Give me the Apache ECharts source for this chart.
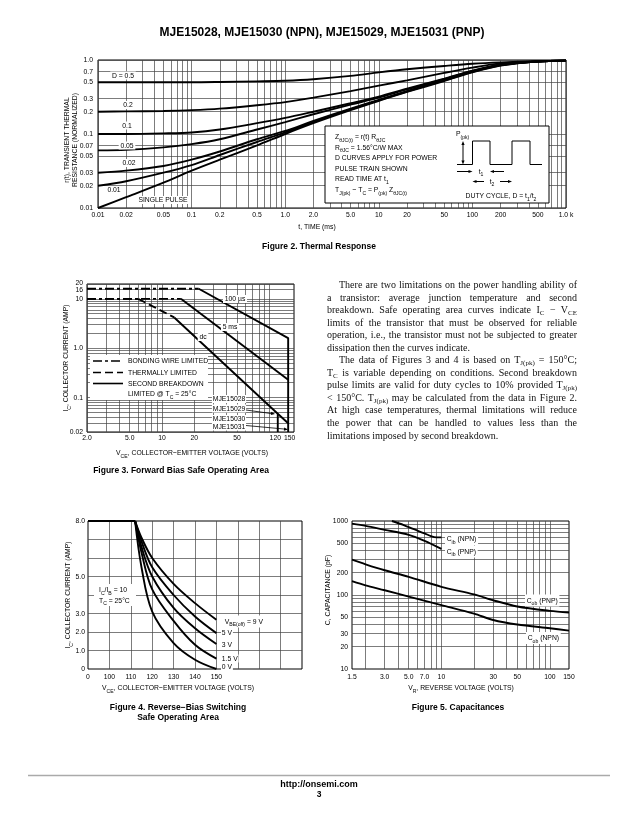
<!DOCTYPE html>
<html><head><meta charset="utf-8"><title>MJE15028 thermal and SOA curves</title>
<script src="https://cdn.jsdelivr.net/npm/echarts@6/dist/echarts.min.js"></script>
<style>
html,body{margin:0;padding:0;background:#fff;width:638px;height:826px;overflow:hidden;}
#chart{position:absolute;left:0;top:0;width:638px;height:826px;}
#para{position:absolute;left:327px;top:279px;width:250px;font-family:'Liberation Serif','Times New Roman',Times,serif;font-size:10px;color:#111;}
#para .l{height:12.56px;line-height:12.56px;text-align:justify;text-align-last:justify;}
#para .e{text-align-last:left;}
#para .i{text-indent:12px;}
#para sub{font-size:7px;vertical-align:-2px;line-height:0;}
</style></head><body>
<div id="chart"></div>
<div id="para">
<div class="l i">There are two limitations on the power handling ability of</div>
<div class="l">a transistor: average junction temperature and second</div>
<div class="l">breakdown. Safe operating area curves indicate I<sub>C</sub> − V<sub>CE</sub></div>
<div class="l">limits of the transistor that must be observed for reliable</div>
<div class="l">operation, i.e., the transistor must not be subjected to greater</div>
<div class="l e">dissipation then the curves indicate.</div>
<div class="l i">The data of Figures 3 and 4 is based on T<sub>J(pk)</sub> = 150°C;</div>
<div class="l">T<sub>C</sub> is variable depending on conditions. Second breakdown</div>
<div class="l">pulse limits are valid for duty cycles to 10% provided T<sub>J(pk)</sub></div>
<div class="l">&lt; 150°C. T<sub>J(pk)</sub> may be calculated from the data in Figure 2.</div>
<div class="l">At high case temperatures, thermal limitations will reduce</div>
<div class="l">the power that can be handled to values less than the</div>
<div class="l e">limitations imposed by second breakdown.</div>
</div>
<script>
const FN = "'Liberation Sans',Arial,Helvetica,sans-serif";
const FB = "'Liberation Sans',Arial,Helvetica,sans-serif";
const SX = 0.85; // condensed look of the original lettering

// ---------- Figure 2: thermal response ----------
const f2Time   = [0.01,0.02,0.05,0.1,0.2,0.5,1,2,5,10,20,50,100,200,500,1000];
const f2D050   = [0.5,0.5,0.5,0.5,0.505,0.515,0.525,0.55,0.61,0.68,0.75,0.83,0.89,0.93,0.965,0.975];
const f2D020   = [0.2,0.202,0.205,0.21,0.22,0.245,0.27,0.31,0.38,0.45,0.53,0.67,0.79,0.9,0.96,0.975];
const f2D010   = [0.1,0.1,0.102,0.105,0.115,0.14,0.165,0.2,0.26,0.32,0.41,0.56,0.72,0.87,0.955,0.975];
const f2D005   = [0.06,0.061,0.066,0.073,0.085,0.115,0.145,0.185,0.25,0.31,0.4,0.55,0.71,0.86,0.955,0.975];
const f2D002   = [0.03,0.032,0.037,0.045,0.058,0.085,0.11,0.15,0.22,0.29,0.38,0.54,0.7,0.86,0.955,0.975];
const f2D001   = [0.02,0.023,0.03,0.038,0.052,0.078,0.105,0.145,0.215,0.285,0.375,0.53,0.69,0.85,0.955,0.975];
const f2Single = [0.01,0.014,0.022,0.032,0.045,0.07,0.1,0.14,0.21,0.28,0.37,0.52,0.68,0.84,0.955,0.975];
const f2XTicks    = [0.01,0.02,0.05,0.1,0.2,0.5,1,2,5,10,20,50,100,200,500,1000];
const f2XTickText = ['0.01','0.02','0.05','0.1','0.2','0.5','1.0','2.0','5.0','10','20','50','100','200','500','1.0 k'];
const f2YTicks    = [0.01,0.02,0.03,0.05,0.07,0.1,0.2,0.3,0.5,0.7,1];
const f2YTickText = ['0.01','0.02','0.03','0.05','0.07','0.1','0.2','0.3','0.5','0.7','1.0'];

// ---------- Figure 3: forward bias SOA ----------
const f3Bond100us = [[2,16],[22,16]];
const f3Sb100us   = [[22,16],[150,1.6],[150,0.02]];
const f3Bond5ms   = [[2,10],[15,10]];
const f3Sb5ms     = [[15,10],[150,0.23]];
const f3BondDc    = [[2,10],[6,10]];
const f3ThermDc   = [[6,10],[13,4.2]];
const f3SbDc      = [[13,4.2],[120,0.047],[150,0.03]];
const f3Limit120  = [[120,0.047],[120,0.02]];
const f3XTicks    = [2,5,10,20,50,120,150];
const f3XTickText = ['2.0','5.0','10','20','50','120','150'];
const f3YTicks    = [0.02,0.1,1,10,16,20];
const f3YTickText = ['0.02','0.1','1.0','10','16','20'];

// ---------- Figure 4: reverse bias SOA ----------
const f4Flat   = [[0,8],[112,8]];
const f4Vce    = [112,115,120,130,140,150];
const f4V9     = [8,7.1,6.0,4.6,3.56,2.66];
const f4V5     = [8,6.9,5.5,4.0,2.84,1.94];
const f4V3     = [8,6.6,5.0,3.3,2.2,1.35];
const f4V15    = [8,6.3,4.3,2.6,1.31,0.56];
const f4V0     = [8,5.5,3.1,1.4,0.5,0];
const f4XTicks    = [0,100,110,120,130,140,150];
const f4XTickText = ['0','100','110','120','130','140','150'];
const f4YTicks    = [0,1,2,3,5,8];
const f4YTickText = ['0','1.0','2.0','3.0','5.0','8.0'];

// ---------- Figure 5: capacitances ----------
const f5CibNpn = [[3.5,1000],[4.5,880],[5.5,780],[7,680],[8,625],[9,600],[10,600]];
const f5CibPnp = [[1.5,920],[2,860],[3,760],[5,650],[7,540],[10,420]];
const f5CobPnp = [[1.5,300],[2,260],[3,216],[5,176],[10,129],[20,102],[30,85],[50,70],[100,61],[150,58]];
const f5CobNpn = [[1.5,154],[2,135],[3,116],[5,95],[10,73],[20,56],[30,46],[50,40],[100,35.5],[150,33]];
const f5XTicks    = [1.5,3,5,7,10,30,50,100,150];
const f5XTickText = ['1.5','3.0','5.0','7.0','10','30','50','100','150'];
const f5YTicks    = [10,20,30,50,100,200,500,1000];
const f5YTickText = ['10','20','30','50','100','200','500','1000'];

// ---------- helpers ----------
function logGrid(min, max){ const out=[]; for(let e=-3;e<=4;e++){ for(let m=1;m<=9;m++){ const v=+(m*Math.pow(10,e)).toPrecision(6); if(v>=min*0.9999 && v<=max*1.0001) out.push(v);} } return out; }
function brk(v){ return v < 100 ? 90 + v/10 : v; } // broken VCE axis: 0..100 compressed into one cell

const grids = [
  {left:98, top:60, width:468, height:148},
  {left:87, top:284, width:207, height:148},
  {left:88, top:521, width:214, height:148},
  {left:352, top:521, width:217, height:148}
].map(g=>Object.assign({show:true, borderColor:'#000', borderWidth:1, backgroundColor:'transparent', containLabel:false, outerBoundsMode:'none'}, g));

function ax(type, gi, min, max){ return {type, gridIndex:gi, min, max, axisLine:{show:false}, axisTick:{show:false}, axisLabel:{show:false}, splitLine:{show:false}, minorTick:{show:false}, minorSplitLine:{show:false}}; }

const series = [];
function gridLines(gi, xs, ys, anchor){
  series.push({type:'line', xAxisIndex:gi, yAxisIndex:gi, data:[anchor], symbol:'none', lineStyle:{opacity:0}, silent:true, animation:false, z:1,
    markLine:{silent:true, symbol:['none','none'], animation:false, label:{show:false}, emphasis:{disabled:true},
      lineStyle:{color:'#444', width:0.7, type:'solid'},
      data: xs.map(v=>({xAxis:v})).concat(ys.map(v=>({yAxis:v})))}});
}
function curve(gi, data, opt){
  series.push(Object.assign({type:'line', xAxisIndex:gi, yAxisIndex:gi, data, symbol:'none', silent:true, animation:false, z:5,
    lineStyle:{color:'#000', width:1.9, type:'solid'}}, opt||{}));
}

// Figure 2
gridLines(0, logGrid(0.01,1000), f2YTicks, [0.01,0.01]);
[f2D050,f2D020,f2D010,f2D005,f2D002,f2D001,f2Single].forEach(arr=>curve(0, f2Time.map((t,i)=>[t,arr[i]]), {smooth:0.3}));

// Figure 3
gridLines(1, logGrid(2,100), logGrid(0.02,20).concat([16]), [2,0.02]);
const bondDash = [9,3,3,3], thermDash = [8,4];
curve(1, f3Bond100us, {lineStyle:{color:'#000', width:1.9, type:bondDash}});
curve(1, f3Sb100us);
curve(1, f3Bond5ms, {lineStyle:{color:'#000', width:1.9, type:bondDash}});
curve(1, f3Sb5ms);
curve(1, f3BondDc, {lineStyle:{color:'#000', width:1.9, type:bondDash}});
curve(1, f3ThermDc, {lineStyle:{color:'#000', width:1.9, type:thermDash}});
curve(1, f3SbDc);
curve(1, f3Limit120);

// Figure 4
const f4GX = []; for(let v=100; v<190; v+=10) f4GX.push(v);
gridLines(2, f4GX, [1,2,3,4,5,6,7], [90,0]);
curve(2, f4Flat.map(p=>[brk(p[0]),p[1]]));
[f4V9,f4V5,f4V3,f4V15,f4V0].forEach(arr=>curve(2, f4Vce.map((v,i)=>[brk(v),arr[i]]), {smooth:0.35}));

// Figure 5
gridLines(3, logGrid(2,100), logGrid(20,900), [1.5,10]);
[f5CibNpn,f5CibPnp,f5CobPnp,f5CobNpn].forEach(d=>curve(3, d, {smooth:0.3}));

const chart = echarts.init(document.getElementById('chart'), null, {renderer:'canvas'});
chart.setOption({
  animation:false,
  backgroundColor:'#fff',
  grid: grids,
  xAxis: [ax('log',0,0.01,1000), ax('log',1,2,170), ax('value',2,90,190), ax('log',3,1.5,150)],
  yAxis: [ax('log',0,0.01,1), ax('log',1,0.02,20), ax('value',2,0,8), ax('log',3,10,1000)],
  series
});

// ---------- graphic annotations ----------
const RICH = {s:{fontFamily:FN, fontSize:6, verticalAlign:'bottom', lineHeight:12}};
function T(x,y,text,o){ o=o||{}; return {type:'text', x, y, z:o.z||60, rotation:o.rot||0, scaleX:(o.sx===undefined?SX:o.sx), silent:true,
  style:{text, fontFamily:o.ff||FN, fontSize:o.fs||8, fontWeight:o.fw||'normal', fill:'#000', align:o.align||'left', verticalAlign:'middle',
    backgroundColor:o.bg||'transparent', padding:o.pad||0, lineHeight:o.lh, rich:RICH}}; }
function P(points, o){ o=o||{}; return {type:'polyline', z:o.z||60, silent:true, shape:{points}, style:{stroke:'#000', lineWidth:o.w||1, fill:null, lineDash:o.dash||null}}; }
function H(x,y,ang){ const l=4, w=1.6, c=Math.cos(ang), s=Math.sin(ang);
  return {type:'polygon', z:61, silent:true, shape:{points:[[x,y],[x-l*c-w*s, y-l*s+w*c],[x-l*c+w*s, y-l*s-w*c]]}, style:{fill:'#000'}}; }
const WB = '#fff';
const g = [];

// tick labels placed through the axes' own scales (small nudges where labels crowd; key = set index : label)
const nudge = {'2:120':[-2.5,0], '2:150':[1.5,0], '3:20':[0,-1.5], '3:16':[0,1]};
const tickSets = [
  [0, f2XTicks.map(v=>[v,0.01]), f2XTickText, 0, 7, 'center'],
  [0, f2YTicks.map(v=>[0.01,v]), f2YTickText, -5, 0, 'right'],
  [1, f3XTicks.map(v=>[v,0.02]), f3XTickText, 0, 6, 'center'],
  [1, f3YTicks.map(v=>[2,v]), f3YTickText, -4, 0, 'right'],
  [2, f4XTicks.map(v=>[brk(v),0]), f4XTickText, 0, 7.5, 'center'],
  [2, f4YTicks.map(v=>[90,v]), f4YTickText, -3, 0, 'right'],
  [3, f5XTicks.map(v=>[v,10]), f5XTickText, 0, 7.5, 'center'],
  [3, f5YTicks.map(v=>[1.5,v]), f5YTickText, -4, 0, 'right']
];
tickSets.forEach(([gi, pts, texts, dx, dy, align], si)=>{
  pts.forEach((p,i)=>{ const px = chart.convertToPixel({gridIndex:gi}, p); const n = nudge[si+':'+texts[i]] || [0,0];
    g.push(T(px[0]+dx+n[0], px[1]+dy+n[1], texts[i], {align})); });
});

// page title and footer
g.push(T(322,33,'MJE15028, MJE15030 (NPN), MJE15029, MJE15031 (PNP)',{ff:FB,fs:12,fw:'bold',align:'center',sx:1}));
g.push({type:'line', z:10, silent:true, shape:{x1:28,y1:775.5,x2:610,y2:775.5}, style:{stroke:'#aaa', lineWidth:1.5}});
g.push(T(319,784.5,'http://onsemi.com',{ff:FB,fs:9,fw:'bold',align:'center',sx:1}));
g.push(T(319,795,'3',{ff:FB,fs:8.5,fw:'bold',align:'center',sx:1}));

// Figure 2 annotations
g.push(T(71,140,'r(t), TRANSIENT THERMAL\nRESISTANCE (NORMALIZED)',{rot:Math.PI/2, align:'center', lh:8.5}));
g.push(T(317,227,'t, TIME (ms)',{align:'center'}));
g.push(T(319,247,'Figure 2. Thermal Response',{ff:FB,fs:8.5,fw:'bold',align:'center',sx:1}));
g.push(T(123,75.5,'D = 0.5',{align:'center',bg:WB,pad:[0,2]}));
g.push(T(128,105,'0.2',{align:'center',bg:WB,pad:[0,2]}));
g.push(T(127,125.5,'0.1',{align:'center',bg:WB,pad:[0,2]}));
g.push(T(127,145.5,'0.05',{align:'center',bg:WB,pad:[0,2]}));
g.push(T(129,163,'0.02',{align:'center',bg:WB,pad:[0,2]}));
g.push(T(114,190,'0.01',{align:'center',bg:WB,pad:[0,2]}));
g.push(T(163,200,'SINGLE PULSE',{align:'center',bg:WB,pad:[0,2]}));
g.push({type:'rect', z:40, silent:true, shape:{x:325,y:126,width:224,height:77}, style:{fill:'#fff', stroke:'#000', lineWidth:1}});
g.push(T(335,137,'Z{s|θJC(t)} = r(t) R{s|θJC}'));
g.push(T(335,147.5,'R{s|θJC} = 1.56°C/W MAX'));
g.push(T(335,158,'D CURVES APPLY FOR POWER'));
g.push(T(335,168.5,'PULSE TRAIN SHOWN'));
g.push(T(335,179,'READ TIME AT t{s|1}'));
g.push(T(335,190,'T{s|J(pk)} − T{s|C} = P{s|(pk)} Z{s|θJC(t)}'));
g.push(P([[457,164.5],[472.5,164.5],[472.5,141],[490,141],[490,164.5],[512,164.5],[512,141],[530,141],[530,164.5],[542,164.5]]));
g.push(P([[463,144],[463,161.5]])); g.push(H(463,141,-Math.PI/2)); g.push(H(463,164.5,Math.PI/2));
g.push(T(456,134,'P{s|(pk)}'));
g.push(P([[457,171.5],[469.5,171.5]])); g.push(H(472.5,171.5,0));
g.push(P([[504,171.5],[493,171.5]])); g.push(H(490,171.5,Math.PI));
g.push(T(481,171.5,'t{s|1}',{align:'center'}));
g.push(P([[484,181.5],[475.5,181.5]])); g.push(H(472.5,181.5,Math.PI));
g.push(P([[500,181.5],[509,181.5]])); g.push(H(512,181.5,0));
g.push(T(492,181.5,'t{s|2}',{align:'center'}));
g.push(T(501,196,'DUTY CYCLE, D = t{s|1}/t{s|2}',{align:'center'}));

// Figure 3 annotations
g.push(T(66,358,'I{s|C}, COLLECTOR CURRENT (AMP)',{rot:Math.PI/2, align:'center'}));
g.push(T(192,453,'V{s|CE}, COLLECTOR−EMITTER VOLTAGE (VOLTS)',{align:'center'}));
g.push(T(181,471,'Figure 3. Forward Bias Safe Operating Area',{ff:FB,fs:8.5,fw:'bold',align:'center',sx:1}));
g.push(T(235,299,'100 µs',{align:'center',bg:WB,pad:[0,2]}));
g.push(T(230,327,'5 ms',{align:'center',bg:WB,pad:[0,2]}));
g.push(T(203,337,'dc',{align:'center',bg:WB,pad:[0,2]}));
g.push({type:'rect', z:30, silent:true, shape:{x:90,y:355,width:118,height:45}, style:{fill:'#fff'}});
g.push(P([[93,361],[123,361]],{w:1.6,dash:bondDash}));
g.push(P([[93,372.5],[123,372.5]],{w:1.6,dash:thermDash}));
g.push(P([[93,383.5],[123,383.5]],{w:1.6}));
g.push(T(128,361,'BONDING WIRE LIMITED'));
g.push(T(128,372.5,'THERMALLY LIMITED'));
g.push(T(128,383.5,'SECOND BREAKDOWN'));
g.push(T(128,394,'LIMITED @ T{s|C} = 25°C'));
g.push(T(229,399,'MJE15028',{align:'center',bg:WB,pad:[0,1]}));
g.push(T(229,408.5,'MJE15029',{align:'center',bg:WB,pad:[0,1]}));
g.push(T(229,419,'MJE15030',{align:'center',bg:WB,pad:[0,1]}));
g.push(T(229,426.5,'MJE15031',{align:'center',bg:WB,pad:[0,1]}));
g.push(P([[246,410],[271,413.5]],{w:0.8})); g.push(H(275,414,Math.atan2(3.5,25)));
g.push(P([[246,425.5],[284,429]],{w:0.8})); g.push(H(288,429.4,Math.atan2(3.5,38)));

// Figure 4 annotations
g.push(T(68,595,'I{s|C}, COLLECTOR CURRENT (AMP)',{rot:Math.PI/2, align:'center'}));
g.push(T(178,688,'V{s|CE}, COLLECTOR−EMITTER VOLTAGE (VOLTS)',{align:'center'}));
g.push(T(178,708,'Figure 4. Reverse−Bias Switching',{ff:FB,fs:8.5,fw:'bold',align:'center',sx:1}));
g.push(T(178,717.5,'Safe Operating Area',{ff:FB,fs:8.5,fw:'bold',align:'center',sx:1}));
g.push({type:'rect', z:30, silent:true, shape:{x:94,y:584,width:42,height:22}, style:{fill:'#fff'}});
g.push(T(99,590,'I{s|C}/I{s|B} = 10'));
g.push(T(99,600.5,'T{s|C} = 25°C'));
g.push(T(223,621.5,'V{s|BE(off)} = 9 V',{bg:WB,pad:[0,2]}));
g.push(T(221,633,'5 V',{bg:WB,pad:[0,1]}));
g.push(T(221,645,'3 V',{bg:WB,pad:[0,1]}));
g.push(T(221,658.5,'1.5 V',{bg:WB,pad:[0,1]}));
g.push(T(221,666.5,'0 V',{bg:WB,pad:[0,1]}));

// Figure 5 annotations
g.push(T(328,590,'C, CAPACITANCE (pF)',{rot:Math.PI/2, align:'center'}));
g.push(T(461,688,'V{s|R}, REVERSE VOLTAGE (VOLTS)',{align:'center'}));
g.push(T(458,708,'Figure 5. Capacitances',{ff:FB,fs:8.5,fw:'bold',align:'center',sx:1}));
g.push(T(445,539,'C{s|ib} (NPN)',{bg:WB,pad:[0,2]}));
g.push(T(445,551.5,'C{s|ib} (PNP)',{bg:WB,pad:[0,2]}));
g.push(T(525,600.5,'C{s|ob} (PNP)',{bg:WB,pad:[0,2]}));
g.push(T(526,638,'C{s|ob} (NPN)',{bg:WB,pad:[0,2]}));

chart.setOption({graphic: g});
</script>
</body></html>
